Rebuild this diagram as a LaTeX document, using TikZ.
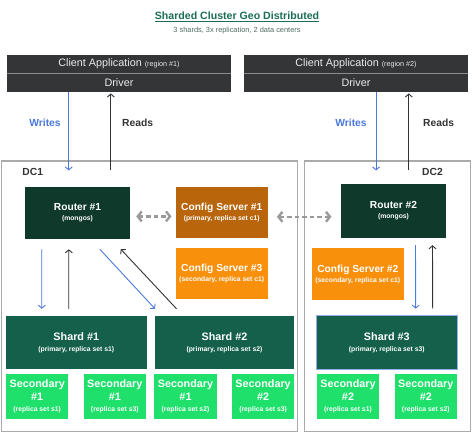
\documentclass[tikz,border=0pt]{standalone}
\usepackage{fontspec}
\setmainfont{Liberation Sans}
\usetikzlibrary{arrows.meta,calc}
\definecolor{cgray}{HTML}{333537}
\definecolor{cline}{HTML}{8A8C8E}
\definecolor{rgreen}{HTML}{0F3A2B}
\definecolor{csone}{HTML}{B8650C}
\definecolor{csthree}{HTML}{F8900C}
\definecolor{shardg}{HTML}{14604A}
\definecolor{secg}{HTML}{1FE06B}
\definecolor{wblue}{HTML}{4A78DC}
\definecolor{rdark}{HTML}{333333}
\definecolor{ttl}{HTML}{1B6E50}
\definecolor{sub}{HTML}{4F6B5E}
\definecolor{dcb}{HTML}{AAAAAA}
\definecolor{dash}{HTML}{9A9A9A}
\newcommand{\sml}[1]{{\fontsize{6.8}{7.5}\selectfont #1}}
\tikzset{
  blk/.style={inner sep=0pt, text=white, align=center},
  client/.style={blk, fill=cgray, text=white!92!black, minimum width=224pt, minimum height=18.5pt, font=\fontsize{10.8}{12}\selectfont},
  router/.style={blk, fill=rgreen, font=\fontsize{10.2}{12}\selectfont\bfseries},
  cfg/.style={blk, font=\fontsize{10.2}{12}\selectfont\bfseries},
  shard/.style={blk, fill=shardg, minimum width=140.7pt, minimum height=53.3pt, font=\fontsize{10.8}{12}\selectfont\bfseries},
  sec/.style={blk, fill=secg, minimum width=62.5pt, minimum height=45.6pt, font=\fontsize{10.8}{13}\selectfont\bfseries},
  dc/.style={draw=dcb, line width=1.3pt, fill=none},
  wr/.style={draw=wblue, line width=0.9pt, -{Straight Barb[length=3pt,width=7pt]}},
  rd/.style={draw=rdark, line width=0.9pt, -{Straight Barb[length=3pt,width=7pt]}},
  dsh/.style={draw=dash, line width=2.4pt, dash pattern=on 4.5pt off 3pt, {Straight Barb[length=4pt,width=10pt]}-{Straight Barb[length=4pt,width=10pt]}},
  lbl/.style={font=\fontsize{10.3}{12}\selectfont\bfseries, inner sep=0pt},
}
\begin{document}
\begin{tikzpicture}[x=1pt,y=-1pt]
\useasboundingbox (0,0) rectangle (474,434);
% title
\node[font=\fontsize{10.6}{12}\selectfont\bfseries, text=ttl, inner sep=0pt] (title) at (237,17) {\underline{Sharded Cluster Geo Distributed}};
\node[font=\fontsize{7.4}{8}\selectfont, text=sub, inner sep=0pt] (subt) at (237,31) {3 shards, 3x replication, 2 data centers};
% client apps
\node[client] (app1) at (119,64.2) {Client Application {\fontsize{7.2}{8}\selectfont (region \#1)}};
\node[client] (drv1) at (119,83) {Driver};
\draw[cline, line width=0.8pt] (app1.south west) -- (app1.south east);
\node[client] (app2) at (356,64.2) {Client Application {\fontsize{7.2}{8}\selectfont (region \#2)}};
\node[client] (drv2) at (356,83) {Driver};
\draw[cline, line width=0.8pt] (app2.south west) -- (app2.south east);
% DC boxes
\node[dc, minimum width=296pt, minimum height=270.5pt, inner sep=0pt] (dc1) at (149.3,296.3) {};
\node[dc, minimum width=165.5pt, minimum height=270.5pt, inner sep=0pt] (dc2) at (387.4,296.3) {};
\node[lbl, text=rdark] (dc1l) at (32.7,171.7) {DC1};
\node[lbl, text=rdark] (dc2l) at (432.5,171.7) {DC2};
% writes/reads
\draw[wr] ($(drv1.south west)+(62,0)$) -- ++(0,78);
\draw[rd] ($(drv1.south west)+(104,78)$) -- ($(drv1.south west)+(104,1)$);
\draw[wr] ($(drv2.south west)+(132.3,0)$) -- ++(0,78);
\draw[rd] ($(drv2.south west)+(165,78)$) -- ($(drv2.south west)+(165,1)$);
\node[lbl, text=wblue] (w1) at (45,123) {Writes};
\node[lbl, text=rdark] (r1l) at (137.6,123) {Reads};
\node[lbl, text=wblue] (w2) at (351,123) {Writes};
\node[lbl, text=rdark] (r2l) at (438.7,123) {Reads};
% routers
\node[router, minimum width=105pt, minimum height=52.3pt] (r1) at (77.5,212.9) {Router \#1\\[-2pt]\sml{(mongos)}};
\node[router, minimum width=105.6pt, minimum height=53.4pt] (r2) at (393.5,211) {Router \#2\\[-2pt]\sml{(mongos)}};
% config servers
\node[cfg, fill=csone, minimum width=92pt, minimum height=51pt] (cs1) at (221.7,212.8) {Config Server \#1\\[-2pt]\sml{(primary, replica set c1)}};
\node[cfg, fill=csthree, minimum width=92pt, minimum height=50.7pt] (cs3) at (221.7,273.6) {Config Server \#3\\[-2pt]\sml{(secondary, replica set c1)}};
\node[cfg, fill=csthree, minimum width=92.3pt, minimum height=51.7pt] (cs2) at (357.8,274.1) {Config Server \#2\\[-2pt]\sml{(secondary, replica set c1)}};
% dashed links
\draw[dsh, shorten <=6pt, shorten >=4pt] ([yshift=-3.5pt]r1.east) -- ([yshift=-3.5pt]r1.east -| cs1.west);
\draw[dsh, shorten <=9pt, shorten >=9pt] ([yshift=-4pt]cs1.east) -- ([yshift=-4pt]cs1.east -| r2.west);
% shards
\node[shard] (s1) at (76.3,342.3) {Shard \#1\\[-1pt]\sml{(primary, replica set s1)}};
\node[shard, minimum width=139.6pt] (s2) at (224.5,342.3) {Shard \#2\\[-1pt]\sml{(primary, replica set s2)}};
\node[shard, draw=wblue!60, line width=0.6pt, minimum width=140.4pt] (s3) at (386.8,342.3) {Shard \#3\\[-1pt]\sml{(primary, replica set s3)}};
% secondaries
\node[sec] (a1) at (37.2,396.5) {Secondary\\\#1\\[-2pt]\sml{(replica set s1)}};
\node[sec] (a2) at (114.8,396.5) {Secondary\\\#1\\[-2pt]\sml{(replica set s3)}};
\node[sec] (a3) at (185.5,396.5) {Secondary\\\#1\\[-2pt]\sml{(replica set s2)}};
\node[sec] (a4) at (263.1,396.5) {Secondary\\\#2\\[-2pt]\sml{(replica set s3)}};
\node[sec] (b1) at (348,396.5) {Secondary\\\#2\\[-2pt]\sml{(replica set s1)}};
\node[sec] (b2) at (425.8,396.5) {Secondary\\\#2\\[-2pt]\sml{(replica set s2)}};
% router <-> shard arrows DC1
\draw[wr] ($(r1.south west)+(17,10)$) -- ($(s1.north west)+(36,-6.7)$);
\draw[rd] ($(s1.north west)+(63,-6.7)$) -- ($(r1.south west)+(44,10)$);
\draw[wr] ($(r1.south west)+(75,10)$) -- ($(s2.north west)+(0.5,-6.7)$);
\draw[rd] ($(s2.north west)+(22,-6.7)$) -- ($(r1.south west)+(96,10)$);
% DC2
\draw[wr] ($(r2.south west)+(75,7.3)$) -- ($(s3.north west)+(99.4,-6.7)$);
\draw[rd] ($(s3.north west)+(116.4,-6.7)$) -- ($(r2.south west)+(92,7.3)$);
\end{tikzpicture}
\end{document}
